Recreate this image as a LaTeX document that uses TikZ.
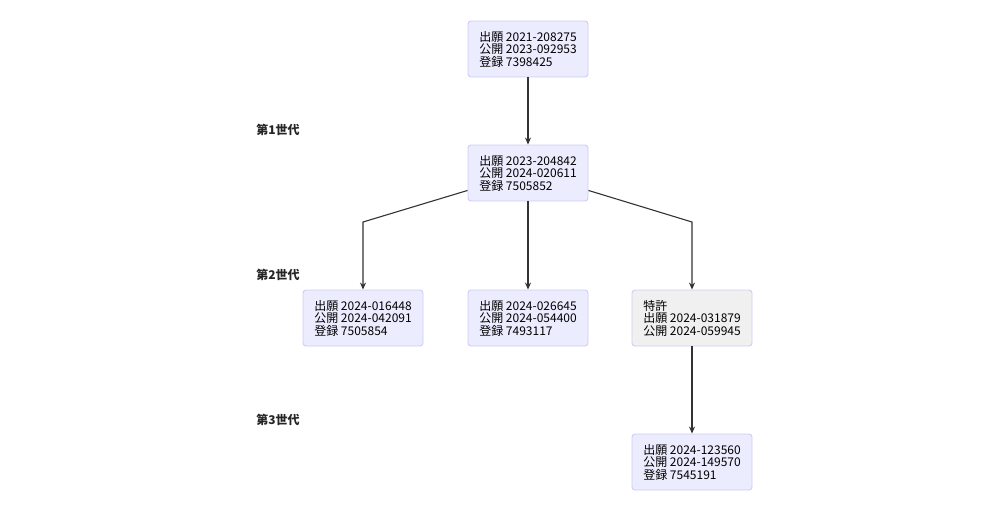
\documentclass[tikz,border=0pt]{standalone}
\usepackage{fontspec}
\setmainfont{Noto Sans CJK JP}
\usetikzlibrary{arrows.meta,positioning}
\definecolor{nodeFill}{HTML}{ECECFF}
\definecolor{nodeLine}{HTML}{CCCCF5}
\definecolor{grayFill}{HTML}{F0F0F0}
\definecolor{linkGray}{HTML}{333333}

\begin{document}
\begin{tikzpicture}[x=1pt,y=-1pt,
    patent/.style={draw=nodeLine, fill=nodeFill, line width=0.9pt, rounded corners=3pt,
      align=left, inner xsep=9pt, minimum width=120pt, minimum height=56pt,
      font=\fontsize{12}{12.5}\selectfont},
    grant/.style={patent, fill=grayFill},
    gen/.style={font=\fontsize{12}{12}\selectfont\bfseries, text=black!85},
    link/.style={draw=linkGray, line width=1.1pt, -{Stealth[length=7pt,width=6pt]}}]
  \useasboundingbox (0,0) rectangle (1000,523);
  % generation labels
  \node[gen] (gen1) at (278,130) {第1世代};
  \node[gen] (gen2) at (278,275) {第2世代};
  \node[gen] (gen3) at (278,420) {第3世代};
  % patents
  \node[patent] (p0) at (528,49) {出願 2021-208275\\公開 2023-092953\\登録 7398425};
  \node[patent] (p1) at (528,173) {出願 2023-204842\\公開 2024-020611\\登録 7505852};
  \node[patent] (p2a) at (363,318) {出願 2024-016448\\公開 2024-042091\\登録 7505854};
  \node[patent] (p2b) at (528,318) {出願 2024-026645\\公開 2024-054400\\登録 7493117};
  \node[grant] (p2c) at (692,318) {特許\\出願 2024-031879\\公開 2024-059945};
  \node[patent] (p3) at (692,462) {出願 2024-123560\\公開 2024-149570\\登録 7545191};
  % links
  \coordinate (bendL) at (363,222);
  \coordinate (bendR) at (692,222);
  \draw[link] (p0) -- (p1);
  \draw[link] ([yshift=11pt]p1.south west) -- (bendL) -- (p2a.north);
  \draw[link] (p1) -- (p2b);
  \draw[link] ([yshift=11pt]p1.south east) -- (bendR) -- (p2c.north);
  \draw[link] (p2c) -- (p3);
\end{tikzpicture}
\end{document}
